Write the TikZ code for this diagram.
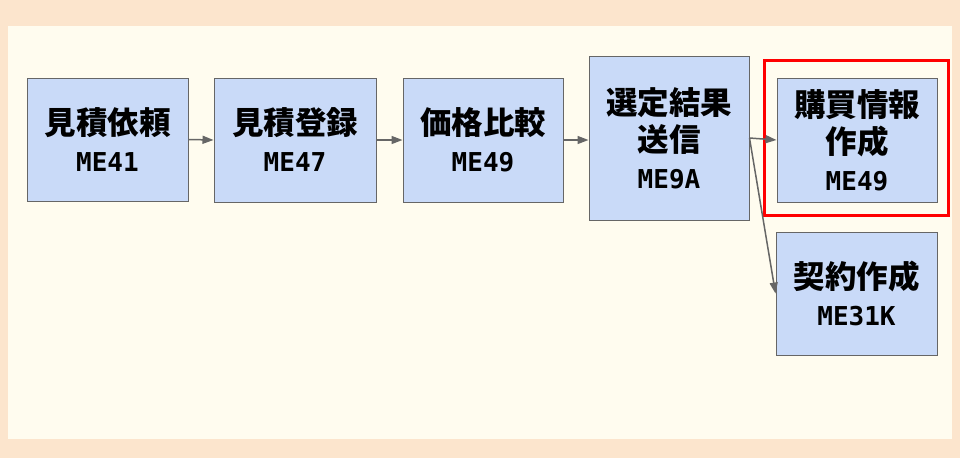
\documentclass[tikz,border=0pt]{standalone}
\usepackage{fontspec}
\newfontfamily\cjk{Noto Sans CJK JP}
\newfontfamily\monof{DejaVu Sans Mono}
\usetikzlibrary{arrows.meta}
\definecolor{outerbg}{HTML}{FCE5CD}
\definecolor{panelbg}{HTML}{FFFCEF}
\definecolor{boxfill}{HTML}{C9DAF8}
\definecolor{boxline}{HTML}{666666}
\tikzset{
  stepbox/.style={draw=boxline, fill=boxfill, line width=1pt, align=center, inner sep=0pt,
    font=\bfseries\fontsize{31.5}{37}\selectfont},
  flow/.style={draw=boxline, line width=1.5pt, -{Triangle[length=11pt,width=8pt]}}
}
\newcommand{\ml}[1]{{\monof\bfseries\fontsize{26}{37}\selectfont #1}}
\newcommand{\cj}[1]{{\cjk\bfseries\fontsize{31.5}{37}\selectfont #1}}
\begin{document}
\begin{tikzpicture}[x=1pt,y=-1pt]
\fill[outerbg] (0,0) rectangle (960,458);
\fill[panelbg] (8,26) rectangle (952,439);
\useasboundingbox (0,0) rectangle (960,458);
\node[stepbox, minimum width=161pt, minimum height=123pt] (a) at (107.5,139.5) {\cj{見積依頼}\\\ml{ME41}};
\node[stepbox, minimum width=162pt, minimum height=124pt] (b) at (295,140) {\cj{見積登録}\\\ml{ME47}};
\node[stepbox, minimum width=160pt, minimum height=124pt] (c) at (483,140) {\cj{価格比較}\\\ml{ME49}};
\node[stepbox, minimum width=160pt, minimum height=164pt] (d) at (669,138) {\cj{選定結果}\\\cj{送信}\\\ml{ME9A}};
\node[stepbox, minimum width=160pt, minimum height=124pt] (e) at (857,140) {\cj{購買情報}\\\cj{作成}\\\ml{ME49}};
\node[stepbox, minimum width=161pt, minimum height=123pt] (f) at (856.5,293.5) {\cj{契約作成}\\\ml{ME31K}};
\node[draw=red, line width=3pt, minimum width=184pt, minimum height=155pt, inner sep=0pt] (hl) at (856,137.5) {};
\draw[flow] (a.east) -- (b.west);
\draw[flow] (b.east) -- (c.west);
\draw[flow] (c.east) -- (d.west |- c.east);
\draw[flow] (d.east) -- (e.west);
\draw[flow] (d.east) -- (f.west);
\end{tikzpicture}
\end{document}
